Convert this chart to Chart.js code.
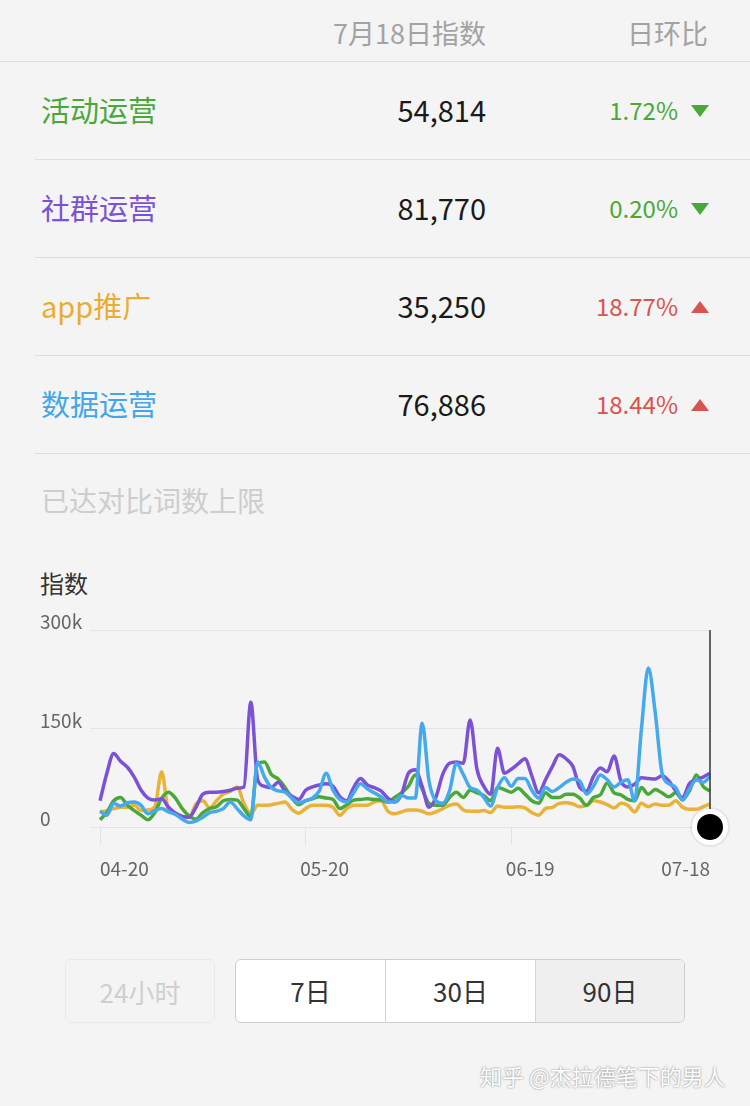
<!DOCTYPE html>
<html>
<head>
<meta charset="utf-8">
<script src="https://cdn.jsdelivr.net/npm/chart.js@4.4.0/dist/chart.umd.min.js"></script>
<style>
  html, body { margin: 0; padding: 0; }
  body {
    width: 750px; height: 1106px; background: #f4f4f4; position: relative; overflow: hidden;
    font-family: "Noto Sans CJK SC", "Liberation Sans", sans-serif;
  }
  .t { position: absolute; white-space: nowrap; }
  .r { text-align: right; }
  .line { position: absolute; height: 1px; background: #dedede; }
  .tri-down { position: absolute; width: 0; height: 0; border-left: 9px solid transparent; border-right: 9px solid transparent; border-top: 12px solid #4aa838; }
  .tri-up { position: absolute; width: 0; height: 0; border-left: 9px solid transparent; border-right: 9px solid transparent; border-bottom: 12px solid #d9534f; }
  .btn { position: absolute; top: 959px; height: 64px; line-height: 64px; text-align: center; font-size: 26px; box-sizing: border-box; }
</style>
</head>
<body>

<!-- header -->
<div class="t r" style="right:264px; top:13px; line-height:40px; font-size:27px; color:#a3a3a3;">7月18日指数</div>
<div class="t r" style="right:42px; top:13px; line-height:40px; font-size:27px; color:#a3a3a3;">日环比</div>
<div class="line" style="left:0; width:750px; top:61px;"></div>

<div id="rows"></div>

<div class="t" style="left:41px; top:480px; line-height:40px; font-size:28px; color:#cdcdcd;">已达对比词数上限</div>
<div class="t" style="left:40px; top:567px; line-height:32px; font-size:24px; color:#333;">指数</div>

<div style="position:absolute; left:0; top:600px; width:750px; height:290px;">
  <canvas id="chart" width="750" height="290"></canvas>
</div>

<!-- range buttons -->
<div class="btn" style="left:65px; width:150px; border:1px solid #e8e8e8; border-radius:6px; color:#cfcfcf;">24小时</div>
<div style="position:absolute; left:235px; top:959px; width:450px; height:64px; border:1px solid #cdcdcd; border-radius:6px; box-sizing:border-box; overflow:hidden; background:#fff;"></div>
<div class="btn" style="left:236px; width:149px; color:#333;">7日</div>
<div class="btn" style="left:385px; width:150px; color:#333; border-left:1px solid #d6d6d6;">30日</div>
<div class="btn" style="left:535px; width:149px; top:960px; height:62px; line-height:62px; color:#333; background:#efefef; border-left:1px solid #d6d6d6; border-radius:0 5px 5px 0;">90日</div>

<div class="t" style="left:480px; top:1059px; line-height:32px; font-size:22px; color:#fff; text-shadow:0 0 2px rgba(0,0,0,0.55);">知乎 @杰拉德笔下的男人</div>

<script>
// 关键词（顺序同上方列表）
const names = ['活动运营', '社群运营', 'app推广', '数据运营'];
const nameColors = ['#4aa838', '#7b52d6', '#e8ae33', '#42a6ea'];
const todayValues = ['54,814', '81,770', '35,250', '76,886'];
const dayChange = ['1.72%', '0.20%', '18.77%', '18.44%'];
const changeUp = [false, false, true, true];

// x 轴：04-20 到 07-18，共 90 天
const dates = [];
(function() {
    const d = new Date(2019, 3, 20);
    for (let i = 0; i < 90; i++) {
        const mm = String(d.getMonth() + 1).padStart(2, '0');
        const dd = String(d.getDate()).padStart(2, '0');
        dates.push(mm + '-' + dd);
        d.setDate(d.getDate() + 1);
    }
})();
const xTickLabels = ['04-20', '05-20', '06-19', '07-18'];
const yTicks = [0, 150, 300];
const yTickLabels = ['0', '150k', '300k'];

// 指数（单位：千）
const huodong = [11, 22, 40, 45, 33, 25, 18, 11, 22, 44, 53, 44, 28, 17, 12, 22, 28, 31, 40, 42,
    41, 28, 16, 97, 99, 80, 73, 60, 44, 34, 40, 43, 46, 44, 42, 28, 34, 41, 42, 43,
    42, 41, 38, 45, 52, 62, 79, 58, 36, 33, 33, 45, 53, 45, 56, 52, 48, 40, 60, 57,
    53, 59, 50, 40, 36, 52, 45, 45, 50, 50, 44, 33, 45, 49, 67, 52, 49, 42, 40, 60,
    50, 57, 52, 46, 52, 42, 55, 79, 62, 54.814];
const shequn = [40, 82, 112, 100, 91, 76, 56, 44, 41, 43, 30, 21, 16, 15, 30, 50, 53, 53, 54, 56,
    59, 61, 190, 72, 62, 60, 68, 55, 47, 42, 56, 61, 64, 66, 62, 46, 40, 60, 74, 64,
    60, 55, 44, 38, 50, 82, 87, 62, 30, 45, 80, 97, 99, 97, 163, 88, 62, 50, 120, 82,
    88, 96, 104, 78, 52, 72, 92, 110, 104, 92, 60, 55, 77, 90, 84, 108, 70, 61, 65, 75,
    74, 73, 78, 70, 55, 45, 66, 72, 76, 81.77];
const appTuiguang = [23, 25, 28, 30, 30, 33, 25, 26, 31, 84, 25, 21, 16, 15, 35, 40, 29, 40, 50, 54,
    61, 36, 20, 33, 33, 34, 36, 38, 27, 21, 28, 33, 33, 33, 30, 18, 28, 33, 33, 33,
    38, 40, 24, 20, 23, 26, 26, 24, 20, 23, 28, 33, 35, 26, 24, 24, 25, 22, 32, 30,
    30, 31, 29, 22, 18, 28, 30, 36, 37, 35, 31, 33, 40, 38, 34, 29, 36, 33, 23, 36,
    31, 35, 33, 33, 40, 30, 27, 27, 31, 35.25];
const shuju = [24, 18, 36, 32, 37, 38, 33, 20, 25, 28, 23, 19, 12, 7, 9, 15, 22, 24, 28, 38,
    28, 17, 11, 99, 76, 60, 55, 53, 44, 37, 40, 44, 55, 82, 56, 42, 38, 52, 66, 58,
    52, 46, 38, 38, 48, 44, 44, 158, 70, 40, 36, 55, 97, 80, 60, 56, 45, 32, 60, 75,
    62, 74, 74, 56, 44, 60, 54, 60, 68, 73, 70, 50, 62, 79, 72, 61, 68, 72, 40, 150,
    242, 175, 82, 66, 60, 41, 58, 72, 68, 76.886];

(function() {
    // 列表
    const rows = document.getElementById('rows');
    let html = '';
    for (let i = 0; i < names.length; i++) {
        const cy = 110 + i * 98;
        const cc = changeUp[i] ? '#d9534f' : '#4aa838';
        html += '<div class="t" style="left:41px; top:' + (cy - 21) + 'px; line-height:40px; font-size:29px; color:' + nameColors[i] + ';">' + names[i] + '</div>';
        html += '<div class="t r" style="right:264px; top:' + (cy - 21) + 'px; line-height:40px; font-size:29px; color:#1a1a1a;">' + todayValues[i] + '</div>';
        html += '<div class="t r" style="right:72px; top:' + (cy - 18) + 'px; line-height:36px; font-size:24px; color:' + cc + ';">' + dayChange[i] + '</div>';
        html += '<div class="' + (changeUp[i] ? 'tri-up' : 'tri-down') + '" style="left:691px; top:' + (cy - 5) + 'px;"></div>';
        html += '<div class="line" style="left:35px; width:715px; top:' + (cy + 49) + 'px;"></div>';
    }
    rows.innerHTML = html;

    // 竖线 + 圆点
    const cursorPlugin = {
        id: 'cursor',
        afterDatasetsDraw(chart) {
            const ctx = chart.ctx;
            const area = chart.chartArea;
            const x = chart.scales.x.getPixelForValue(dates.length - 1);
            ctx.save();
            ctx.strokeStyle = '#333';
            ctx.lineWidth = 1.5;
            ctx.beginPath();
            ctx.moveTo(x, area.top);
            ctx.lineTo(x, area.bottom);
            ctx.stroke();
            ctx.beginPath();
            ctx.arc(x, area.bottom, 20, 0, Math.PI * 2);
            ctx.fillStyle = 'rgba(0,0,0,0.06)';
            ctx.fill();
            ctx.beginPath();
            ctx.arc(x, area.bottom, 18, 0, Math.PI * 2);
            ctx.fillStyle = '#fff';
            ctx.fill();
            ctx.beginPath();
            ctx.arc(x, area.bottom, 13, 0, Math.PI * 2);
            ctx.fillStyle = '#000';
            ctx.fill();
            ctx.restore();
        }
    };

    const tickFont = { family: 'Noto Sans CJK SC', size: 19 };
    // 中间的日期标签左对齐到刻度：前面补空白
    const pad = '\u2003\u2003';
    const mkLine = (label, data, color) => ({
        label: label,
        data: data,
        borderColor: color,
        borderWidth: 3.5,
        pointRadius: 0,
        fill: false,
        cubicInterpolationMode: 'monotone'
    });

    new Chart(document.getElementById('chart'), {
        type: 'line',
        data: {
            labels: dates,
            datasets: [
                mkLine(names[3], shuju, '#45a9ee'),
                mkLine(names[1], shequn, '#7b52d6'),
                mkLine(names[0], huodong, '#4aa838'),
                mkLine(names[2], appTuiguang, '#e9b23a')
            ]
        },
        options: {
            responsive: false,
            animation: false,
            devicePixelRatio: 1,
            layout: { padding: { left: 40, right: 40, top: 30, bottom: 0 } },
            plugins: { legend: { display: false }, tooltip: { enabled: false } },
            scales: {
                x: {
                    type: 'category',
                    afterFit(scale) { scale.height = 63; },
                    border: { display: true, color: '#e2e2e2' },
                    grid: {
                        drawOnChartArea: false,
                        drawTicks: true,
                        tickLength: 18,
                        tickColor: '#e2e2e2'
                    },
                    ticks: {
                        autoSkip: false,
                        maxRotation: 0,
                        align: 'inner',
                        padding: 12,
                        color: '#666',
                        font: tickFont,
                        callback(v, i) {
                            const k = xTickLabels.indexOf(dates[i]);
                            if (k < 0) return null;
                            if (k === 0 || k === xTickLabels.length - 1) return xTickLabels[k];
                            return pad + xTickLabels[k];
                        }
                    }
                },
                y: {
                    min: 0,
                    max: 300,
                    afterFit(scale) { scale.width = 60; },
                    afterBuildTicks(scale) { scale.ticks = yTicks.map(v => ({ value: v })); },
                    border: { display: false },
                    grid: { color: '#e4e4e4', drawTicks: true, tickLength: 10, tickColor: '#e4e4e4' },
                    ticks: {
                        crossAlign: 'far',
                        labelOffset: -8,
                        color: '#666',
                        font: tickFont,
                        callback(v) { return yTickLabels[yTicks.indexOf(v)]; }
                    }
                }
            }
        },
        plugins: [cursorPlugin]
    });
})();
</script>
</body>
</html>
